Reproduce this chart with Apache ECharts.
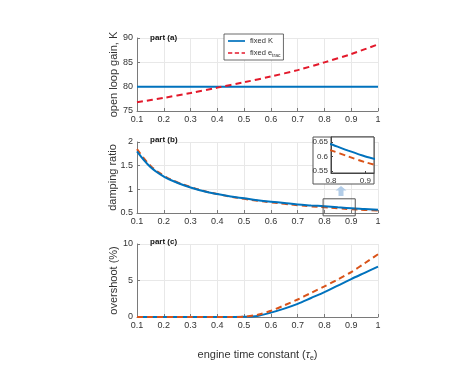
<!DOCTYPE html>
<html><head><meta charset="utf-8">
<script src="https://cdn.jsdelivr.net/npm/echarts@6/dist/echarts.min.js"></script>
<style>html,body{margin:0;padding:0;background:#fff}#c{width:474px;height:366px}</style>
</head><body><div id="c"></div>
<script>
// ---- data ----
const tauA = [0.1,0.2,0.3,0.4,0.5,0.6,0.7,0.8,0.9,1.0];
const gainFixedK = [80,80,80,80,80,80,80,80,80,80];
const gainFixedE = [76.8,77.7,78.7,79.8,80.9,82.1,83.4,85.0,86.7,88.7];

const tauB = [0.1,0.15,0.2,0.25,0.3,0.35,0.4,0.45,0.5,0.55,0.6,0.65,0.7,0.75,0.8,0.85,0.9,0.95,1.0];
const dampFixedK = [1.80,1.47,1.27,1.14,1.04,0.96,0.90,0.85,0.81,0.77,0.74,0.71,0.68,0.66,0.642,0.62,0.60,0.585,0.57];
const dampFixedE = [1.85,1.50,1.29,1.15,1.05,0.965,0.90,0.845,0.80,0.76,0.725,0.695,0.665,0.64,0.621,0.60,0.58,0.565,0.55];

const tauC = [0.1,0.15,0.2,0.25,0.3,0.35,0.4,0.45,0.5,0.55,0.6,0.65,0.7,0.75,0.8,0.85,0.9,0.95,1.0];
const overFixedK = [0,0,0,0,0,0,0,0,0.02,0.15,0.6,1.15,1.8,2.6,3.4,4.3,5.2,6.05,6.9];
const overFixedE = [0,0,0,0,0,0,0,0,0.05,0.3,0.85,1.6,2.4,3.3,4.2,5.15,6.15,7.35,8.6];

const xTicksMain = [0.1,1.0];
const yTicksA = [75,90,5];
const yTicksB = [0.5,2,0.5];
const yTicksC = [0,10,5];
const insetXTicks = [0.8,0.9];
const insetYTicks = [0.55,0.6,0.65];

const pairs = (xs, ys) => xs.map((x,i)=>[x,ys[i]]);

const BLUE = '#0072BD', RED = '#E3192B', ORANGE = '#D95319';
const FONT = 'Liberation Sans, Arial, sans-serif';
const GRIDC = '#e8e8e8', AXC = '#7a7a7a', TXT = '#333';

function xAx(gi, extra) {
  return Object.assign({
    type:'value', gridIndex:gi, min:xTicksMain[0], max:xTicksMain[1], interval:0.1,
    axisLine:{show:true,lineStyle:{color:AXC,width:1}},
    axisTick:{show:true,inside:true,length:3,lineStyle:{color:AXC}},
    axisLabel:{fontFamily:FONT,fontSize:9,color:TXT,margin:4,formatter:v=>String(+v.toFixed(1))},
    splitLine:{show:true,lineStyle:{color:GRIDC,width:1}}
  }, extra||{});
}
function yAx(gi, t, name, gap) {
  return {
    type:'value', gridIndex:gi, min:t[0], max:t[1], interval:t[2],
    name:name, nameLocation:'middle', nameGap:gap, nameRotate:90, nameMoveOverlap:false,
    nameTextStyle:{fontFamily:FONT,fontSize:11,color:TXT},
    axisLine:{show:true,lineStyle:{color:AXC,width:1}},
    axisTick:{show:true,inside:true,length:3,lineStyle:{color:AXC}},
    axisLabel:{fontFamily:FONT,fontSize:9,color:TXT,margin:4,formatter:v=>String(+v.toFixed(2))},
    splitLine:{show:true,lineStyle:{color:GRIDC,width:1}}
  };
}
const solid = (c)=>({color:c,width:2,type:'solid'});
const dashed = (c)=>({color:c,width:2,type:[6,4]});
const ICON_SOLID = 'path://M0,0H20V2H0Z';
const ICON_DASH = 'path://M0,0H5V2H0Z M8,0H13V2H8Z M16,0H20V2H16Z';

const chart = echarts.init(document.getElementById('c'), null, {renderer:'canvas'});
const option = {
  animation:false,
  backgroundColor:'#fff',
  title:[
    {text:'part (a)',left:145,top:29,textStyle:{fontFamily:FONT,fontSize:8,fontWeight:'bold',color:'#111'}},
    {text:'part (b)',left:145,top:131,textStyle:{fontFamily:FONT,fontSize:8,fontWeight:'bold',color:'#111'}},
    {text:'part (c)',left:145,top:233,textStyle:{fontFamily:FONT,fontSize:8,fontWeight:'bold',color:'#111'}}
  ],
  legend:{
    data:[{name:'fixed K',icon:ICON_SOLID},{name:'fixed e_trac',icon:ICON_DASH}],
    orient:'vertical', left:224, top:34,
    itemWidth:17, itemHeight:2, itemGap:4, padding:[3,3,2,4],
    borderColor:'#444', borderWidth:0.8, backgroundColor:'#fff',
    textStyle:{fontFamily:FONT,fontSize:7.5,color:TXT,
      rich:{n:{fontFamily:FONT,fontSize:7.5,color:TXT},s:{fontFamily:FONT,fontSize:5,color:TXT,padding:[5,0,0,0]}}},
    formatter:n=> n==='fixed K' ? '{n|fixed K}' : '{n|fixed e}{s|trac}'
  },
  grid:[
    {left:137,width:241,top:38,height:73},
    {left:137,width:241,top:142,height:71},
    {left:137,width:241,top:244,height:73},
    {left:331,width:43,top:137,height:36,show:true,borderColor:'#444',borderWidth:1,backgroundColor:'#fff',z:3}
  ],
  xAxis:[
    xAx(0), xAx(1),
    xAx(2,{name:'{a|engine time constant (}{t|τ}{s|e}{a|)}',nameLocation:'middle',nameGap:30,
      nameTextStyle:{fontFamily:FONT,fontSize:11,color:TXT,rich:{
        a:{fontFamily:FONT,fontSize:11,color:TXT},
        t:{fontFamily:FONT,fontSize:11,color:TXT,fontStyle:'italic'},
        s:{fontFamily:FONT,fontSize:7,color:TXT,padding:[8,0,0,0]}}}}),
    {type:'value',gridIndex:3,min:0.8,max:0.925,z:4,
      axisLine:{show:true,lineStyle:{color:'#444'}},
      axisTick:{show:true,inside:true,length:2,lineStyle:{color:'#444'},customValues:insetXTicks},
      axisLabel:{fontFamily:FONT,fontSize:8,color:TXT,margin:4,customValues:insetXTicks,formatter:v=>String(+v.toFixed(1))},
      splitLine:{show:false}}
  ],
  yAxis:[
    yAx(0,yTicksA,'open loop gain, K',18),
    yAx(1,yTicksB,'damping ratio',19),
    yAx(2,yTicksC,'overshoot (%)',18),
    {type:'value',gridIndex:3,min:0.543,max:0.667,z:4,
      axisLine:{show:true,lineStyle:{color:'#444'}},
      axisTick:{show:true,inside:true,length:2,lineStyle:{color:'#444'},customValues:insetYTicks},
      axisLabel:{fontFamily:FONT,fontSize:8,color:TXT,margin:3,customValues:insetYTicks,formatter:v=>String(+v.toFixed(2))},
      splitLine:{show:false}}
  ],
  series:[
    {name:'fixed K',type:'line',xAxisIndex:0,yAxisIndex:0,data:pairs(tauA,gainFixedK),symbol:'none',lineStyle:solid(BLUE),itemStyle:{color:BLUE},z:3},
    {name:'fixed e_trac',type:'line',xAxisIndex:0,yAxisIndex:0,data:pairs(tauA,gainFixedE),symbol:'none',smooth:0.3,lineStyle:dashed(RED),itemStyle:{color:RED},z:4},
    {name:'b1',type:'line',xAxisIndex:1,yAxisIndex:1,data:pairs(tauB,dampFixedE),symbol:'none',smooth:0.4,lineStyle:dashed(ORANGE),z:3},
    {name:'b2',type:'line',xAxisIndex:1,yAxisIndex:1,data:pairs(tauB,dampFixedK),symbol:'none',smooth:0.4,lineStyle:solid(BLUE),z:4},
    {name:'c1',type:'line',xAxisIndex:2,yAxisIndex:2,data:pairs(tauC,overFixedK),symbol:'none',smooth:0.3,lineStyle:solid(BLUE),z:3},
    {name:'c2',type:'line',xAxisIndex:2,yAxisIndex:2,data:pairs(tauC,overFixedE),symbol:'none',smooth:0.3,lineStyle:dashed(ORANGE),z:4},
    {name:'i1',type:'line',xAxisIndex:3,yAxisIndex:3,data:pairs(tauB,dampFixedK),symbol:'none',smooth:0.3,lineStyle:solid(BLUE),z:6,clip:true},
    {name:'i2',type:'line',xAxisIndex:3,yAxisIndex:3,data:pairs(tauB,dampFixedE),symbol:'none',smooth:0.3,lineStyle:dashed(ORANGE),z:6,clip:true}
  ]
};
chart.setOption(option);

// annotations: zoom box on panel (b), outer inset frame and arrow
const p1 = chart.convertToPixel({gridIndex:1},[0.795,0.8]);
const p2 = chart.convertToPixel({gridIndex:1},[0.915,0.44]);
chart.setOption({graphic:[
  {type:'rect',z:1,shape:{x:313,y:137,width:61,height:47},style:{fill:'#fff',stroke:'#555',lineWidth:1}},
  {type:'rect',z:10,shape:{x:p1[0],y:p1[1],width:p2[0]-p1[0],height:p2[1]-p1[1]},style:{fill:'none',stroke:'#555',lineWidth:1}},
  {type:'polygon',z:10,shape:{points:[[341,186],[346.5,190.5],[343.5,190.5],[343.5,196],[338.5,196],[338.5,190.5],[335.5,190.5]]},style:{fill:'#b3cde8',stroke:'none'}}
]});
</script>
</body></html>
